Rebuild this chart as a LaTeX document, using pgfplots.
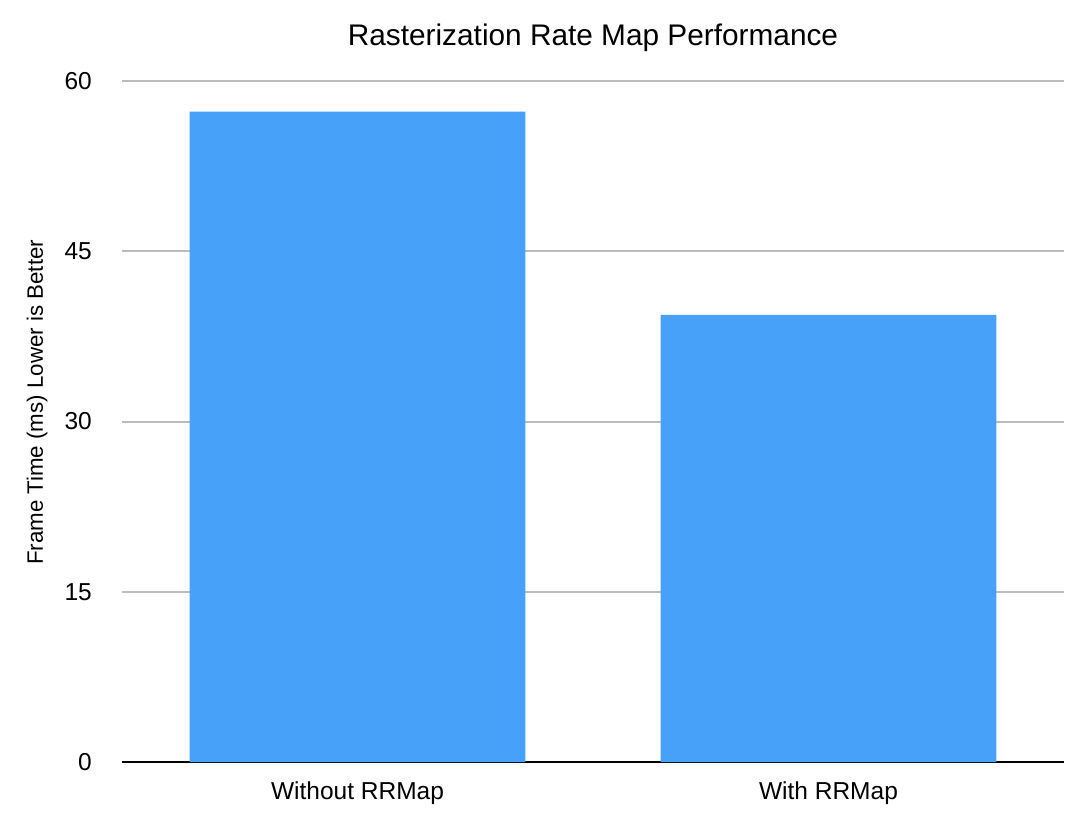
\documentclass[border=0pt]{standalone}
\usepackage{pgfplots}
\pgfplotsset{compat=1.18}
\usepackage{fontspec}
\setmainfont{Liberation Sans}

\definecolor{barblue}{RGB}{71,161,248}
\definecolor{gridgray}{RGB}{187,187,187}

\begin{document}
\begin{tikzpicture}
\begin{axis}[
    scale only axis,
    width=942pt, height=681pt,
    xmin=-0.5, xmax=1.5,
    ymin=0, ymax=60,
    xtick={0,1},
    xticklabels={Without RRMap, With RRMap},
    ytick={0,15,30,45,60},
    /pgf/number format/assume math mode=true,
    axis lines*=left,
    x axis line style={-, line width=2.2pt, black},
    y axis line style={draw=none},
    major tick length=0pt,
    ymajorgrids,
    grid style={gridgray, line width=2pt},
    ticklabel style={font=\fontsize{24.5}{26}\selectfont},
    yticklabel style={anchor=east, inner sep=0pt, xshift=-30pt},
    xticklabel style={anchor=base, inner sep=0pt, yshift=-37pt},
    title={Rasterization Rate Map Performance},
    title style={font=\fontsize{29.8}{31}\selectfont, anchor=base,
        at={(axis description cs:0.5,1)}, inner sep=0pt, yshift=29pt},
    ylabel={Frame Time (ms) Lower is Better},
    ylabel style={font=\fontsize{22.3}{24}\selectfont, anchor=center,
        at={(axis description cs:0,0.528)}, yshift=85pt},
]
\addplot[ybar, fill=barblue, draw=none, bar width=0.713]
    coordinates {(0,57.3) (1,39.4)};
\coordinate (bl) at (rel axis cs:0,0);
\coordinate (tr) at (rel axis cs:1,1);
\end{axis}
\path[use as bounding box] ([xshift=-122pt, yshift=-52pt]bl) rectangle ([xshift=24pt, yshift=81pt]tr);
\end{tikzpicture}
\end{document}
